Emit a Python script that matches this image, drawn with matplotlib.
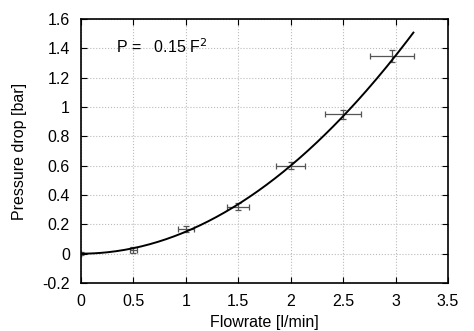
import numpy as np
import matplotlib.pyplot as plt

plt.rcParams['font.family'] = ['Liberation Sans', 'DejaVu Sans']

# measured points
flow = [0.0, 0.5, 1.0, 1.5, 2.0, 2.5, 2.97]
dp = [0.0, 0.025, 0.166, 0.32, 0.60, 0.95, 1.35]
flow_err = [0.0, 0.03, 0.075, 0.105, 0.14, 0.17, 0.21]
dp_err = [0.01, 0.02, 0.02, 0.025, 0.025, 0.03, 0.04]

# fit P = k F^2
k = 0.15
f_end = 3.17

fig = plt.figure(figsize=(4.74, 3.31), dpi=100)
ax = fig.add_axes([81/474, 1 - 283/331, 367/474, 264/331])

F = np.linspace(0, f_end, 200)
ax.plot(F, k * F**2, color='black', lw=1.4, zorder=3)
ax.errorbar(flow, dp, xerr=flow_err, yerr=dp_err, fmt='none', ecolor='#555555',
            elinewidth=0.9, capsize=2, capthick=0.9, zorder=2)

ax.set_xlim(0, 3.5)
ax.set_ylim(-0.2, 1.6)
ax.set_xticks(np.arange(0, 3.51, 0.5))
ax.set_yticks(np.arange(-0.2, 1.61, 0.2))
ax.set_xticklabels(['0', '0.5', '1', '1.5', '2', '2.5', '3', '3.5'])
ax.set_yticklabels(['-0.2', '0', '0.2', '0.4', '0.6', '0.8', '1', '1.2', '1.4', '1.6'])
ax.tick_params(direction='in', top=True, right=True, labelsize=11.5, length=4, pad=8)
ax.grid(color='#bbbbbb', linestyle=':', linewidth=0.8)
for s in ax.spines.values():
    s.set_linewidth(1.2)

ax.text(0.33, 1.41, r'P =   0.15 F$^2$', fontsize=11.5, va='center')

ax.set_xlabel('Flowrate [l/min]', fontsize=11.5, labelpad=4)
ax.set_ylabel('Pressure drop [bar]', fontsize=11.5, labelpad=11)

plt.savefig('out.png', dpi=100)
